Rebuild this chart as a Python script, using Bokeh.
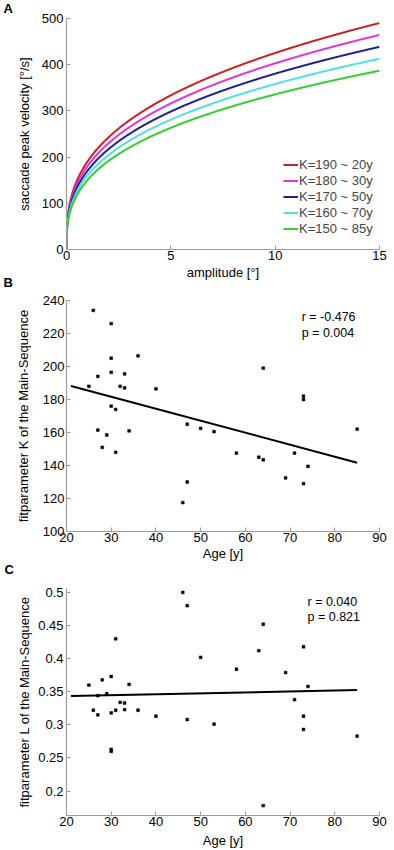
import numpy as np
from bokeh.plotting import figure
from bokeh.layouts import column
from bokeh.models import (Range1d, FixedTicker, Title, Legend, LegendItem,
                          CustomJSTickFormatter)
from bokeh.core.properties import value
from bokeh.embed import file_html
from bokeh.resources import INLINE

FONT = "Liberation Sans"

# ---------------- Panel A data (main-sequence model V = K * A^L) ----------------
k_values = [190, 180, 170, 160, 150]
legend_labels = ["K=190 ~ 20y", "K=180 ~ 30y", "K=170 ~ 50y", "K=160 ~ 70y", "K=150 ~ 85y"]
curve_colors = ["#cf1f1f", "#e034de", "#1f1f9c", "#52e0e0", "#2fd12f"]
exponent_L = 0.35
amplitude = np.linspace(0, 15, 1501)
a_xticks = [0, 5, 10, 15]
a_yticks = [0, 100, 200, 300, 400, 500]

# ---------------- Panel B data ----------------
ages_B = [26, 30, 30, 36, 30, 33, 27, 25, 32, 33, 40, 30, 31, 64, 73, 73,
          27, 34, 29, 28, 31, 47, 50, 53, 85, 58, 63, 64, 71, 74, 69, 73, 47, 46]
K_B = [234, 226, 205, 206.5, 196.5, 195.5, 194, 188, 188, 187, 186.5, 176, 174, 199, 182, 180,
       161.5, 161, 158.5, 151, 148, 165, 162.5, 160.5, 162, 147.5, 145, 143.5, 147.5, 139.5, 132.5, 129, 130, 117.5]
fit_B_x = [21, 85]
fit_B_y = [188.2, 141.7]
stats_B = ["r = -0.476", "p = 0.004"]
stats_B_x = [72.6, 72.6]
stats_B_y = [229.9, 220.5]
b_xticks = [20, 30, 40, 50, 60, 70, 80, 90]
b_yticks = [100, 120, 140, 160, 180, 200, 220, 240]

# ---------------- Panel C data ----------------
ages_C = [25, 26, 27, 28, 27, 29, 30, 30, 30, 30, 31, 31, 32, 33, 33, 34, 36, 40,
          46, 47, 47, 50, 53, 58, 63, 64, 64, 69, 71, 73, 73, 73, 74, 85]
L_C = [0.360, 0.322, 0.315, 0.368, 0.344, 0.347, 0.373, 0.318, 0.263, 0.260, 0.430, 0.322,
       0.334, 0.333, 0.323, 0.361, 0.322, 0.313, 0.500, 0.480, 0.308, 0.402, 0.301, 0.384,
       0.412, 0.452, 0.178, 0.379, 0.338, 0.418, 0.313, 0.293, 0.358, 0.283]
fit_C_x = [21, 85]
fit_C_y = [0.3434, 0.3525]
stats_C = ["r = 0.040", "p = 0.821"]
stats_C_x = [73.9, 73.9]
stats_C_y = [0.486, 0.4636]
c_xticks = [20, 30, 40, 50, 60, 70, 80, 90]
c_yticks = [0.2, 0.25, 0.3, 0.35, 0.4, 0.45, 0.5]

AXIS_GRAY = "#9c9c9c"


def make_fig(w, h, xr, yr, bl, br, bt, bb):
    p = figure(width=w, height=h, x_range=Range1d(*xr), y_range=Range1d(*yr),
               output_backend="svg", toolbar_location=None, title=None,
               min_border_left=bl, min_border_right=br,
               min_border_top=bt, min_border_bottom=bb)
    p.grid.visible = False
    p.outline_line_color = None
    p.background_fill_color = "white"
    p.border_fill_color = "white"
    for ax in p.axis:
        ax.axis_line_color = AXIS_GRAY
        ax.axis_line_width = 1.2
        ax.major_tick_line_color = AXIS_GRAY
        ax.major_tick_in = 4
        ax.major_tick_out = 0
        ax.minor_tick_line_color = None
        ax.major_label_text_font = FONT
        ax.major_label_text_font_size = "13px"
        ax.major_label_text_color = "black"
        ax.axis_label_text_font = FONT
        ax.axis_label_text_font_size = "13px"
        ax.axis_label_text_font_style = "normal"
        ax.axis_label_text_color = "black"
    return p


def panel_title(text, offset, standoff, valign="top"):
    return Title(text=text, align="left", offset=offset, standoff=standoff,
                 vertical_align=valign, text_font=FONT, text_font_size="13px",
                 text_font_style="bold", text_color="black")


# ---------------- Panel A ----------------
pA = make_fig(394, 290, (0, 15), (0, 500), 66, 10, 18, 41)
pA.xaxis.ticker = FixedTicker(ticks=a_xticks)
pA.yaxis.ticker = FixedTicker(ticks=a_yticks)
pA.xaxis.axis_label = "amplitude [°]"
pA.yaxis.axis_label = "saccade peak velocity [°/s]"
pA.xaxis.major_label_standoff = 1
pA.xaxis.axis_label_standoff = 2
pA.yaxis.major_label_standoff = 3
pA.yaxis.axis_label_standoff = 7
items = []
for K, lab, col in zip(k_values, legend_labels, curve_colors):
    r = pA.line(amplitude, K * amplitude ** exponent_L, line_color=col, line_width=2)
    items.append(LegendItem(label=lab, renderers=[r]))
legend = Legend(items=items, location=(217, 13), padding=0, margin=0, spacing=1,
                glyph_width=15, glyph_height=15, label_height=15, label_standoff=1,
                label_text_font=FONT, label_text_font_size="13px",
                background_fill_color="white", background_fill_alpha=1.0,
                border_line_color=None)
pA.add_layout(legend)
pA.add_layout(panel_title("A", -63, 1), "above")
pA.add_layout(panel_title("B", -63, -16), "below")

# ---------------- Panel B ----------------
pB = make_fig(394, 287, (20, 90), (100, 240), 65, 12, 10, 45)
pB.xaxis.ticker = FixedTicker(ticks=b_xticks)
pB.yaxis.ticker = FixedTicker(ticks=b_yticks)
pB.xaxis.axis_label = "Age [y]"
pB.yaxis.axis_label = "fitparameter K of the Main-Sequence"
pB.xaxis.major_label_standoff = 1
pB.xaxis.axis_label_standoff = 1
pB.yaxis.major_label_standoff = 2
pB.yaxis.axis_label_standoff = 9
pB.scatter(ages_B, K_B, marker="square", size=2.8, fill_color="black", line_color="black", line_width=0.5)
pB.line(fit_B_x, fit_B_y, line_color="black", line_width=2)
pB.text(x=stats_B_x, y=stats_B_y, text=stats_B, text_font=value(FONT),
        text_font_size="12.5px", text_baseline="middle", text_align="left", text_color="black")
pB.add_layout(panel_title("C", -62, -3), "below")

# ---------------- Panel C ----------------
pC = make_fig(394, 273, (20, 90), (0.163, 0.506), 62, 15, 11, 35)
pC.xaxis.ticker = FixedTicker(ticks=c_xticks)
pC.yaxis.ticker = FixedTicker(ticks=c_yticks)
pC.yaxis.formatter = CustomJSTickFormatter(code="return String(Math.round(tick*100)/100)")
pC.xaxis.axis_label = "Age [y]"
pC.yaxis.axis_label = "fitparameter L of the Main-Sequence"
pC.xaxis.major_label_standoff = 1
pC.xaxis.axis_label_standoff = 4
pC.yaxis.major_label_standoff = 3
pC.yaxis.axis_label_standoff = 3
pC.scatter(ages_C, L_C, marker="square", size=2.8, fill_color="black", line_color="black", line_width=0.5)
pC.line(fit_C_x, fit_C_y, line_color="black", line_width=2)
pC.text(x=stats_C_x, y=stats_C_y, text=stats_C, text_font=value(FONT),
        text_font_size="12.5px", text_baseline="middle", text_align="left", text_color="black")

layout = column(pA, pB, pC, spacing=0)
open("out.html", "w").write(file_html(layout, INLINE))
